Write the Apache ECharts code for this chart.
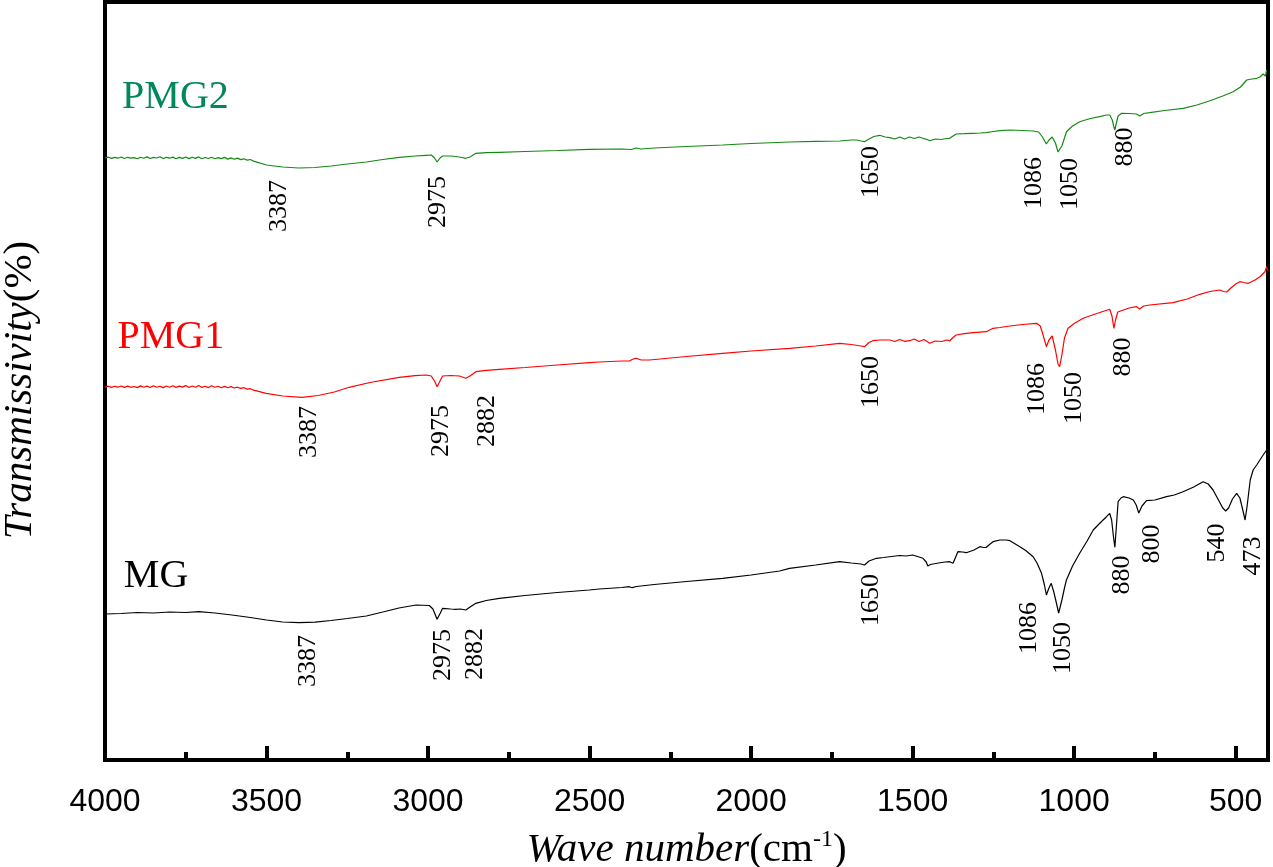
<!DOCTYPE html>
<html><head><meta charset="utf-8">
<script src="https://cdn.jsdelivr.net/npm/echarts@6/dist/echarts.min.js"></script>
<style>html,body{margin:0;padding:0;background:#fff}#c{width:1273px;height:867px}</style>
</head><body><div id="c"></div>
<script>
// ---- data (wavenumber in cm-1, transmissivity in arbitrary offset units) ----
const pmg2Wave = [4000,3990,3980,3970,3960,3950,3940,3930,3920,3910,3900,3890,3880,3870,3860,3850,3840,3830,3820,3810,3800,3790,3780,3770,3760,3750,3740,3730,3720,3710,3700,3690,3680,3670,3660,3650,3640,3630,3620,3610,3600,3590,3580,3570,3560,3550,3540,3500,3450,3400,3350,3300,3250,3191,3140,3089,3040,3006,2990,2980,2972,2963,2955,2930,2914,2895,2883,2870,2852,2820,2779,2700,2600,2501,2400,2370,2356,2340,2300,2200,2088,2000,1881,1800,1726,1690,1674,1660,1649,1635,1620,1602,1585,1571,1555,1540,1525,1510,1495,1480,1468,1455,1447,1430,1410,1395,1385,1375,1365,1340,1313,1290,1272,1250,1230,1199,1160,1127,1110,1098,1086,1078,1068,1058,1050,1045,1038,1030,1024,1005,983,950,921,900,890,882,877,874,870,864,853,830,807,797,785,766,720,663,620,580,540,508,485,466,450,435,425,415,408,404];
const pmg2T = [602,602.8,601.6,602.6,601.8,603,601.5,602.7,601.9,602.4,601.2,602.8,601.7,603.1,601.5,602.6,602,603.2,601.4,602.7,601.8,602.9,601.2,602.6,601.6,603,601.4,602.8,601.6,603.1,601.3,602.5,601.5,602.7,601.2,602.4,601.4,602.6,600.9,602.1,600.8,601.9,600.4,601.2,599.9,600.5,598.8,595,593,592,592.5,594,596,598,600.5,602.7,604,604.7,605,602,598,602,604,604,603.5,602.5,601.7,603,606.7,607.3,607.7,608.5,609.5,610.7,611,610.5,612,611,612,613.5,615,616.5,618,618.7,619,620,620,619,618.3,621,623.5,624.7,623,622.3,621,623,621,623,621.5,623,621.7,620.5,619.3,621,620.5,621.5,621.7,624,626,626.3,626.7,627,627.3,628.5,629.3,630,629.5,629,628,623,616,620,623,617,608,606.7,614,622,628.3,634,638.3,641.5,643.3,645,645,640,633,630,636,644,646.7,646.5,646,644,646.5,647.3,649.5,651.7,655,659.3,664,668.3,673,680,681,681.7,683,686,684,690];

const pmg1Wave = [4000,3990,3980,3970,3960,3950,3940,3930,3920,3910,3900,3890,3880,3870,3860,3850,3840,3830,3820,3810,3800,3790,3780,3770,3760,3750,3740,3730,3720,3710,3700,3690,3680,3670,3660,3650,3640,3630,3620,3610,3600,3590,3580,3570,3560,3550,3540,3501,3450,3390,3340,3290,3244,3180,3089,3040,3006,2990,2980,2972,2963,2955,2930,2903,2890,2883,2870,2852,2820,2779,2700,2600,2501,2470,2400,2377,2365,2356,2340,2315,2200,2088,2000,1881,1800,1726,1690,1660,1649,1635,1623,1600,1571,1555,1540,1525,1509,1495,1480,1465,1447,1430,1410,1395,1385,1375,1365,1340,1313,1272,1251,1230,1199,1160,1116,1105,1098,1086,1078,1068,1058,1050,1045,1038,1030,1019,1000,972,930,890,883,877,872,865,859,830,807,797,785,766,694,650,611,580,549,538,528,515,500,487,475,461,440,425,410,404,400];
const pmg1T = [373,373.8,372.6,373.7,372.8,374,372.6,373.9,372.7,373.5,372.4,374.1,372.8,373.9,372.5,374.2,372.7,373.8,372.4,374,372.8,374.3,372.6,373.9,372.9,374.4,372.5,374,372.8,374.5,372.6,373.8,372.4,374.2,372.7,373.7,372.3,373.6,372.2,373.4,372,372.8,371.6,372.3,370.9,371.3,369.8,366.7,364,362.7,364.5,368,372.7,377.5,382.7,384.3,385,384,379,373.3,379,384,384.5,384,382.5,381.7,384,388.3,389.7,390.7,392.5,395,397.3,398,399,399,401,401.7,400,400,403.5,406.7,409,411.7,414,416.7,415.5,414,413.3,417.5,419.3,420,420,418.5,420.5,418.7,419.3,421,418.5,420.5,416.7,419,418.5,420,419.3,422.5,425,426.3,427.3,428.3,431.7,432.5,434,435.5,436.7,434,427,413.3,420,424,410,396,393.3,405,422,431.7,436.5,441.7,446.5,450.7,444,431.7,440,448,450,452,453.3,451,454,455,457.3,461,465.7,468.5,470,468.5,468,472,476,478.3,477.5,476.7,480,483.3,488,493.3,489];

const mgWave = [4000,3950,3900,3850,3800,3750,3709,3660,3607,3550,3500,3450,3399,3350,3300,3250,3191,3140,3090,3037,2996,2985,2972,2962,2955,2930,2914,2900,2883,2870,2852,2820,2779,2700,2600,2501,2470,2400,2377,2368,2355,2300,2200,2088,2000,1912,1881,1800,1726,1690,1660,1649,1635,1612,1590,1565,1540,1520,1500,1480,1468,1458,1453,1445,1420,1400,1385,1375,1368,1360,1345,1334,1310,1292,1280,1272,1260,1251,1230,1210,1199,1168,1150,1127,1115,1101,1092,1086,1078,1071,1063,1055,1048,1045,1038,1030,1024,1005,983,960,941,920,900,890,884,879,874,869,864,855,848,830,817,808,800,797,790,776,750,714,690,663,630,601,585,570,555,540,531,522,510,497,487,478,471,465,455,446,435,425,415,404,400];
const mgT = [146,146.5,147.5,147,148,147.5,148.3,147,145,142.5,140,138,137.3,137.8,139.5,141.5,144,148,152,155,154.5,151,140.7,147,151.7,151,150.7,151,150,153,156.7,159.5,161.7,164.5,167.5,170,171,172.5,173.3,172.3,173.5,175.5,178.5,181.7,185,189,191.7,195,198.3,197,196,195,199,201.7,202.5,203.5,204.5,204,205,203,201.7,198,194,195.5,197,198,198.3,196.7,202,208.3,208,207.3,210,213.3,212.5,212.7,216,218.3,220,220,219.3,213.3,209.5,203.3,197,186.7,175,165,172,176.7,168,157,147,146.7,160,172,180,194,206.7,219,230,237,243.3,246.7,240,225,212.7,235,258.3,262,263.3,262,260,255,247,246.7,254,259.3,260,263.3,265,268.3,273,278.3,276,270,261,252,249,252,261,266.7,262,250,240,253,280,290,295,300,305,310,320];

// peak annotations: text, label-centre wavenumber, label-centre value
const pmg2PeakText = ['3387','2975','1650','1086','1050','880'];
const pmg2PeakWave = [3461,2968,1627,1125,1011,843];
const pmg2PeakT    = [554,558,588,577,576,613];
const pmg1PeakText = ['3387','2975','2882','1650','1086','1050','880'];
const pmg1PeakWave = [3368,2959,2817,1627,1116,1001,849];
const pmg1PeakT    = [328,329,339,378,371,362,403];
const mgPeakText = ['3387','2975','2882','1650','1086','1050','880','800','540','473'];
const mgPeakWave = [3371,2953,2854,1627,1138,1035,852,760,558,447];
const mgPeakT    = [99,105,106,160,132,112,185,216,217,204];

// sample names
const sampleNames = ['PMG2','PMG1','MG'];
const sampleNameWave = [3782,3796,3842];
const sampleNameT = [663,423,184];

const xMin = 4000, xMax = 400, tickStep = 500;

// ---- build ----
const zip = (w, t) => w.map((x, i) => [-x, t[i]]);
const lab = (txt, w, t) => txt.map((s, i) => ({ name: s, value: [-w[i], t[i]] }));
const serif = 'Liberation Serif, Times New Roman, serif';
const colPMG2 = '#138a13', colPMG2Text = '#00875a', colPMG1 = '#ff0000', colMG = '#000000';

function lineSeries(name, data, color) {
  return { name, type: 'line', data, showSymbol: false, symbol: 'none',
    lineStyle: { color, width: 1.2 }, itemStyle: { color }, z: 3, silent: true };
}
function peakSeries(data) {
  return { type: 'scatter', data, symbolSize: 0, silent: true, z: 4,
    itemStyle: { opacity: 1 },
    label: { show: true, position: 'inside', rotate: 90, formatter: '{b}', opacity: 1,
      fontFamily: serif, fontSize: 26, color: '#000' } };
}
const nameColors = [colPMG2Text, colPMG1, colMG];

const option = {
  animation: false,
  backgroundColor: '#fff',
  grid: { left: 105, right: 5, top: 2, bottom: 107, containLabel: false, outerBoundsMode: 'none',
    show: true, borderColor: '#000', borderWidth: 4, backgroundColor: 'transparent' },
  xAxis: [
    { type: 'value', min: -xMin, max: -xMax, interval: tickStep, position: 'bottom',
      axisLine: { show: true, lineStyle: { color: '#000', width: 4 } },
      axisTick: { show: true, inside: true, length: 14, lineStyle: { color: '#000', width: 4 } },
      axisLabel: { formatter: v => String(-v), fontFamily: 'Liberation Sans, Arial, sans-serif', fontSize: 32, color: '#000', margin: 26, showMaxLabel: false },
      splitLine: { show: false },
      name: '{i|Wave number}{r|(cm}{s|-1}{r|)}', nameLocation: 'middle', nameGap: 68,
      nameTextStyle: { rich: {
        i: { fontFamily: serif, fontStyle: 'italic', fontSize: 41, color: '#000', lineHeight: 44 },
        r: { fontFamily: serif, fontSize: 41, color: '#000', lineHeight: 44 },
        s: { fontFamily: serif, fontSize: 24, color: '#000', verticalAlign: 'top', lineHeight: 24 } } } },
    { type: 'value', min: -xMin, max: -xMax, interval: tickStep / 2, position: 'bottom',
      axisLine: { show: false },
      axisTick: { show: true, inside: true, length: 8, lineStyle: { color: '#000', width: 4 } },
      axisLabel: { show: false }, splitLine: { show: false } }
  ],
  yAxis: { type: 'value', min: 0, max: 758,
    axisLine: { show: false }, axisTick: { show: false }, axisLabel: { show: false }, splitLine: { show: false },
    name: '{i|Transmissivity}{r|(%)}', nameLocation: 'middle', nameGap: 64, nameRotate: 90,
    nameTextStyle: { padding: [0, 18, 0, 0], rich: {
      i: { fontFamily: serif, fontStyle: 'italic', fontSize: 41, color: '#000' },
      r: { fontFamily: serif, fontSize: 41, color: '#000' } } } },
  series: [
    lineSeries('MG', zip(mgWave, mgT), colMG),
    lineSeries('PMG1', zip(pmg1Wave, pmg1T), colPMG1),
    lineSeries('PMG2', zip(pmg2Wave, pmg2T), colPMG2),
    peakSeries(lab(pmg2PeakText, pmg2PeakWave, pmg2PeakT)),
    peakSeries(lab(pmg1PeakText, pmg1PeakWave, pmg1PeakT)),
    peakSeries(lab(mgPeakText, mgPeakWave, mgPeakT)),
    { type: 'scatter', symbolSize: 0, silent: true, z: 4, itemStyle: { opacity: 1 },
      data: sampleNames.map((s, i) => ({ name: s, value: [-sampleNameWave[i], sampleNameT[i]],
        label: { color: nameColors[i] } })),
      label: { show: true, position: 'inside', formatter: '{b}', fontFamily: serif, fontSize: 40, opacity: 1 } }
  ]
};
const chart = echarts.init(document.getElementById('c'), null, { renderer: 'canvas' });
chart.setOption(option);
</script></body></html>
